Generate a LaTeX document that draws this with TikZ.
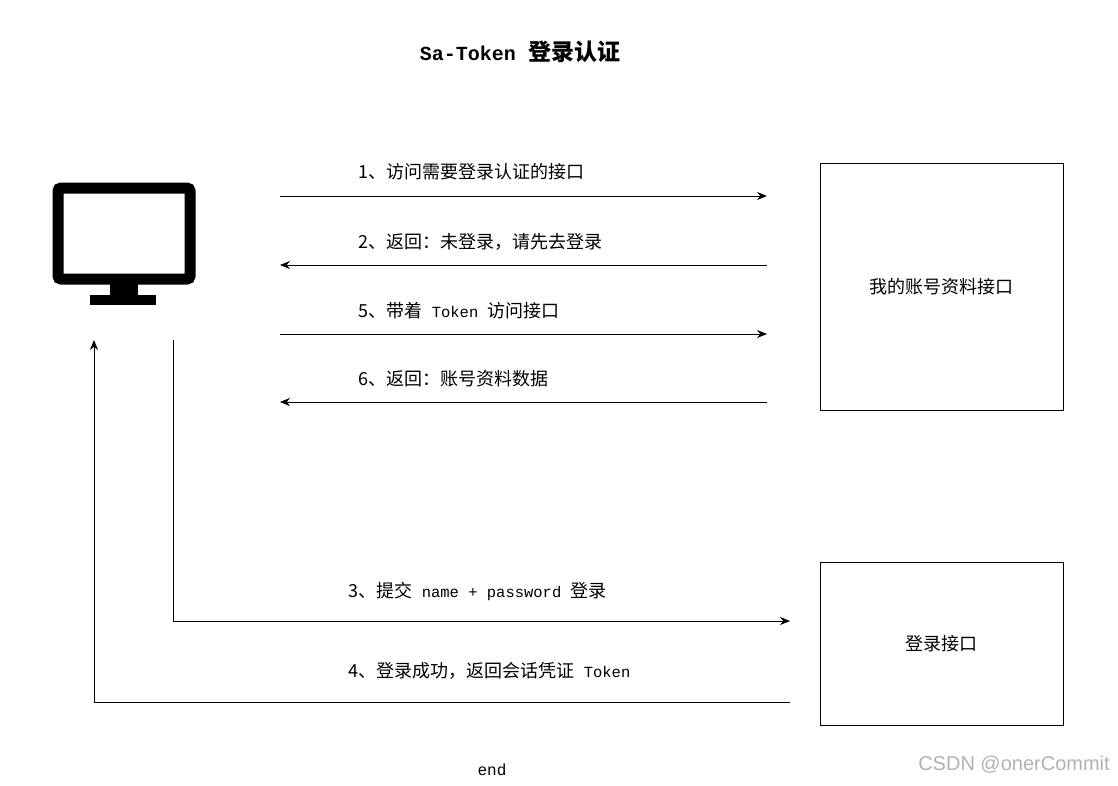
\documentclass[tikz,border=0pt]{standalone}
\usepackage{fontspec}
\setmainfont{Liberation Mono}
\newfontfamily\cjk{Noto Sans CJK SC}
\newfontfamily\wm{Liberation Sans}
\usetikzlibrary{arrows.meta}
\newcommand\zh[1]{{\fontsize{18}{20}\selectfont\cjk #1}}
\begin{document}
\begin{tikzpicture}[x=1pt,y=-1pt,
  lbl/.style={anchor=west,font=\fontsize{15.5}{18}\selectfont},
  box/.style={draw,line width=0.9pt},
  conn/.style={line width=0.9pt,-{Stealth[length=10pt,width=8pt]}}]
\useasboundingbox[fill=white] (0,0) rectangle (1118,785);
\node (title) at (520,52) {\fontsize{20}{24}\selectfont\bfseries Sa-Token {\fontsize{23}{26}\selectfont\cjk 登录认证}};
% monitor
\draw[line width=11pt,rounded corners=3pt] (58,188) rectangle (190,279);
\fill (110,283) rectangle (138,297);
\fill (90,295) rectangle (156,305);
\node[box,minimum width=243pt,minimum height=247pt] (api) at (941.5,286.5) {};
\node at (api) {\zh{我的账号资料接口}};
\node[box,minimum width=243pt,minimum height=163pt] (login) at (941.5,643.5) {};
\node at (login) {\zh{登录接口}};
\coordinate (a1s) at (280,196); \coordinate (a1e) at (767,196);
\coordinate (a2s) at (767,265); \coordinate (a2e) at (280,265);
\coordinate (a5s) at (280,334); \coordinate (a5e) at (767,334);
\coordinate (a6s) at (767,402); \coordinate (a6e) at (280,402);
\draw[conn] (a1s) -- (a1e);
\draw[conn] (a2s) -- (a2e);
\draw[conn] (a5s) -- (a5e);
\draw[conn] (a6s) -- (a6e);
\node[lbl] (l1) at (355,172) {\zh{1、访问需要登录认证的接口}};
\node[lbl] (l2) at (355,242) {\zh{2、返回：未登录，请先去登录}};
\node[lbl] (l5) at (355,311) {\zh{5、带着} Token \zh{访问接口}};
\node[lbl] (l6) at (355,379) {\zh{6、返回：账号资料数据}};
\coordinate (b3s) at (173,340); \coordinate (b3e) at (790,621);
\draw[conn] (b3s) |- (b3e);
\coordinate (b4s) at (790,702); \coordinate (b4e) at (94,340);
\draw[conn] (b4s) -| (b4e);
\node[lbl] (l3) at (345,591) {\zh{3、提交} name + password \zh{登录}};
\node[lbl] (l4) at (345,671) {\zh{4、登录成功，返回会话凭证} Token};
\node (end) at (492,770) {\fontsize{16}{18}\selectfont end};
\node[text=black!30] (wm) at (1014,765) {\fontsize{20}{22}\selectfont\wm CSDN @onerCommit};
\end{tikzpicture}
\end{document}
